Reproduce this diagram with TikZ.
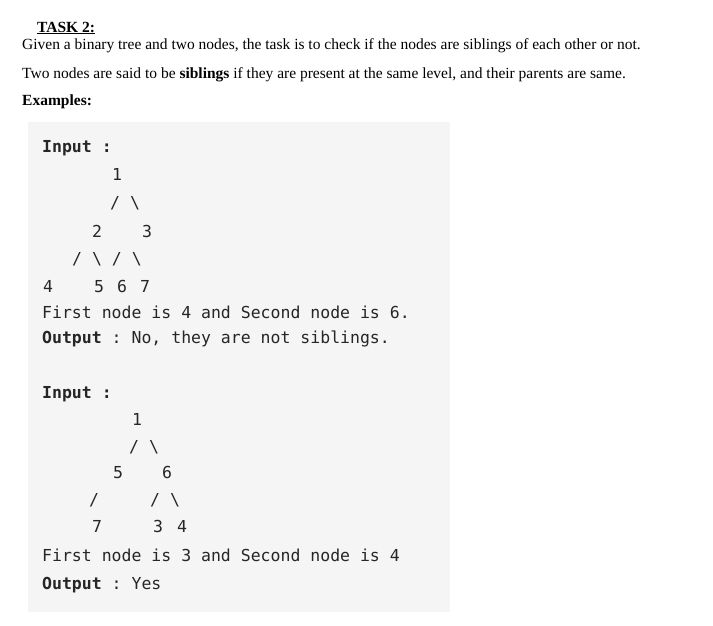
\documentclass[tikz,border=0pt]{standalone}
\usepackage{fontspec}
\setmainfont{Liberation Serif}
\setmonofont{DejaVu Sans Mono}
\begin{document}
\begin{tikzpicture}[x=1pt,y=-1pt,
  serif/.style={anchor=base west,inner sep=0pt,font=\fontsize{15.5}{18}\selectfont},
  mono/.style={anchor=base west,inner sep=0pt,font=\fontsize{16.5}{19}\ttfamily,text=black!85}]
\useasboundingbox (0,0) rectangle (713,625);
\fill[black!4] (28,122) rectangle (450,612);
\node[serif] (t) at (37,32) {\textbf{\underline{TASK 2:}}};
\node[serif] (l1) at (22,49) {Given a binary tree and two nodes, the task is to check if the nodes are siblings of each other or not.};
\node[serif] (l2) at (22,78) {Two nodes are said to be \textbf{siblings} if they are present at the same level, and their parents are same.};
\node[serif] (ex) at (22,105) {\textbf{Examples:}};
% example 1
\node[mono] (i1) at (42,152) {\textbf{Input :}};
\node[mono] (a1) at (112,180) {1};
\node[mono] (a2) at (110,208) {/ \textbackslash};
\node[mono] (a3) at (92,237) {2};
\node[mono] (a4) at (142,237) {3};
\node[mono] (a5) at (72,264) {/ \textbackslash{} / \textbackslash};
\node[mono] (a6) at (43,292) {4};
\node[mono] (a7) at (94,292) {5};
\node[mono] (a8) at (117,292) {6};
\node[mono] (a9) at (140,292) {7};
\node[mono] (f1) at (42,318) {First node is 4 and Second node is 6.};
\node[mono] (o1) at (42,343) {\textbf{Output} : No, they are not siblings.};
% example 2
\node[mono] (i2) at (42,398) {\textbf{Input :}};
\node[mono] (b1) at (132,425) {1};
\node[mono] (b2) at (129,452) {/ \textbackslash};
\node[mono] (b3) at (113,478) {5};
\node[mono] (b4) at (162,478) {6};
\node[mono] (b5) at (89,505) {/};
\node[mono] (b6) at (150,505) {/ \textbackslash};
\node[mono] (b7) at (92,532) {7};
\node[mono] (b8) at (153,532) {3};
\node[mono] (b9) at (177,532) {4};
\node[mono] (f2) at (42,561) {First node is 3 and Second node is 4};
\node[mono] (o2) at (42,589) {\textbf{Output} : Yes};
\end{tikzpicture}
\end{document}
